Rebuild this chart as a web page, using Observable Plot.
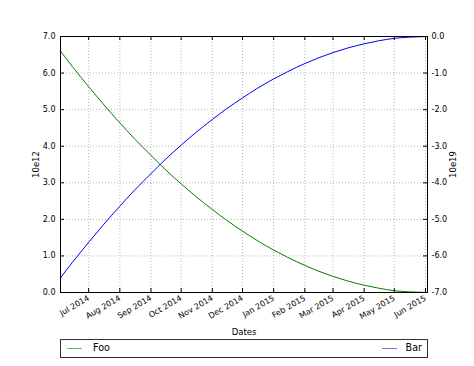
<!DOCTYPE html>
<html>
<head>
<meta charset="utf-8">
<script src="https://cdn.jsdelivr.net/npm/d3@7"></script>
<script src="https://cdn.jsdelivr.net/npm/@observablehq/plot@0.6"></script>
<style>
  body { margin: 0; background: #fff; }
  #wrap { position: relative; width: 474px; height: 366px; font-family: "DejaVu Sans", sans-serif; }
  #legend { position: absolute; left: 60px; top: 339px; width: 366px; height: 17px; border: 1px solid #333; background: #fff; font-size: 9.6px; }
  .item { position: absolute; top: 2px; display: flex; align-items: center; line-height: 12px; }
  .sw { width: 15px; height: 0; }
</style>
</head>
<body>
<div id="wrap"></div>
<script>
const dates = ["2014-06-03","2014-06-15","2014-07-01","2014-07-15","2014-08-01","2014-08-15","2014-09-01","2014-09-15","2014-10-01","2014-10-15","2014-11-01","2014-11-15","2014-12-01","2014-12-15","2015-01-01","2015-01-15","2015-02-01","2015-02-15","2015-03-01","2015-03-15","2015-04-01","2015-04-15","2015-05-01","2015-05-15","2015-06-03"];
const foo = [6.60,6.17,5.63,5.17,4.64,4.22,3.75,3.37,2.97,2.64,2.27,1.98,1.68,1.43,1.16,0.96,0.74,0.58,0.44,0.32,0.20,0.12,0.05,0.02,0.00];      // left axis, units 10e12
const bar = [-6.60,-6.17,-5.63,-5.17,-4.64,-4.22,-3.75,-3.37,-2.97,-2.64,-2.27,-1.98,-1.68,-1.43,-1.16,-0.96,-0.74,-0.58,-0.44,-0.32,-0.20,-0.12,-0.05,-0.02,0.00]; // right axis, units 10e19
const leftTicks = [0,1,2,3,4,5,6,7];
const rightTicks = [0,-1,-2,-3,-4,-5,-6,-7];
const monthTicks = ["2014-07-01","2014-08-01","2014-09-01","2014-10-01","2014-11-01","2014-12-01","2015-01-01","2015-02-01","2015-03-01","2015-04-01","2015-05-01","2015-06-01"];
const seriesNames = ["Foo","Bar"];
const seriesColors = ["#008000","#0000ff"];

const parse = d3.utcParse("%Y-%m-%d");
const D = dates.map(parse);
const T = monthTicks.map(parse);
const rows = D.map((d, i) => ({date: d, foo: foo[i], bar: bar[i]}));

const W = 474, H = 366, mL = 60, mR = 47, mT = 36, mB = 74;
const pw = W - mL - mR, ph = H - mT - mB;
const rightMin = d3.min(rightTicks), rightMax = d3.max(rightTicks);
const leftMax = d3.max(leftTicks);
// map right-axis value onto left scale (0 at top, -7 at bottom)
const toLeft = v => (v - rightMin) / (rightMax - rightMin) * leftMax;

const chart = Plot.plot({
  width: W, height: H,
  marginLeft: mL, marginRight: mR, marginTop: mT, marginBottom: mB,
  style: {fontFamily: "DejaVu Sans, sans-serif", fontSize: "8px", color: "#000", background: "#fff"},
  x: {type: "utc", domain: [D[0], D[D.length - 1]]},
  y: {domain: [0, leftMax]},
  marks: [
    Plot.gridX(T, {stroke: "#000", strokeOpacity: 0.4, strokeDasharray: "1,2", strokeWidth: 0.7}),
    Plot.gridY(leftTicks, {stroke: "#000", strokeOpacity: 0.4, strokeDasharray: "1,2", strokeWidth: 0.7}),
    Plot.line(rows, {x: "date", y: "foo", stroke: seriesColors[0], strokeWidth: 1, curve: "monotone-x"}),
    Plot.line(rows, {x: "date", y: d => toLeft(d.bar), stroke: seriesColors[1], strokeWidth: 1, curve: "monotone-x"}),
    // inward ticks
    Plot.tickY(leftTicks, {y: d => d, insetRight: pw - 4, stroke: "#000"}),
    Plot.tickY(rightTicks, {y: d => toLeft(d), insetLeft: pw - 4, stroke: "#000"}),
    Plot.tickX(T, {x: d => d, insetTop: ph - 4, stroke: "#000"}),
    Plot.tickX(T, {x: d => d, insetBottom: ph - 4, stroke: "#000"}),
    Plot.frame({stroke: "#000", strokeWidth: 1}),
    Plot.axisY(leftTicks, {anchor: "left", tickSize: 0, tickPadding: 5, tickFormat: d => d.toFixed(1), label: null}),
    Plot.axisY(rightTicks.map(toLeft), {anchor: "right", tickSize: 0, tickPadding: 4, tickFormat: d => (d / leftMax * (rightMax - rightMin) + rightMin).toFixed(1).replace("-0.0", "0.0"), label: null}),
    Plot.axisX(T, {anchor: "bottom", tickSize: 0, tickPadding: 5, tickRotate: -30, tickFormat: d3.utcFormat("%b %Y"), label: null}),
    Plot.text(["Dates"], {frameAnchor: "bottom", dy: 40, lineAnchor: "middle", textAnchor: "middle", text: d => d, fontSize: 8.5}),
    Plot.text(["10e12"], {frameAnchor: "left", dx: -24, rotate: -90, lineAnchor: "middle", textAnchor: "middle", text: d => d, fontSize: 8.5}),
    Plot.text(["10e19"], {frameAnchor: "right", dx: 26, rotate: -90, lineAnchor: "middle", textAnchor: "middle", text: d => d, fontSize: 8.5})
  ]
});

const wrap = document.getElementById("wrap");
wrap.appendChild(chart);
const leg = document.createElement("div");
leg.id = "legend";
seriesNames.forEach((name, i) => {
  const it = document.createElement("div");
  it.className = "item";
  if (i === 0) it.style.left = "6px"; else it.style.right = "5px";
  const sw = document.createElement("span");
  sw.className = "sw";
  sw.style.borderTop = "1.5px solid " + seriesColors[i];
  sw.style.opacity = "0.55";
  sw.style.marginRight = i === 0 ? "11px" : "9px";
  const tx = document.createElement("span");
  tx.textContent = name;
  it.appendChild(sw); it.appendChild(tx);
  leg.appendChild(it);
});
wrap.appendChild(leg);
</script>
</body>
</html>
